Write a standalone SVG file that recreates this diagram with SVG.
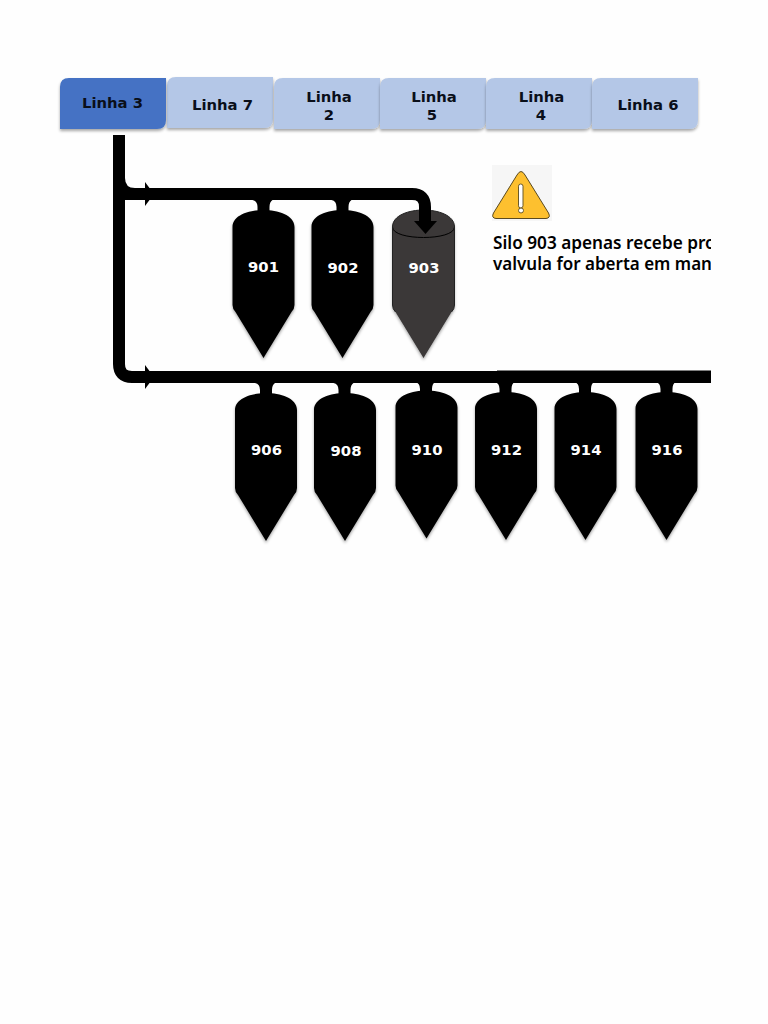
<svg xmlns="http://www.w3.org/2000/svg" width="768" height="1024" viewBox="0 0 768 1024">
<style>
.tab{fill:#b4c7e7}
.tab.on{fill:#4472c4}
.tt{font:bold 14.8px "DejaVu Sans",sans-serif;fill:#0a0f1a;text-anchor:middle}
.sl{font:bold 14.8px "DejaVu Sans",sans-serif;fill:#fff;text-anchor:middle}
.pipe{fill:none;stroke:#000;stroke-width:12}
.note{font:600 17.2px "Noto Sans",sans-serif;fill:#000}
.note2{font:600 17px "Noto Sans",sans-serif;fill:#000}
</style>
<defs>
<filter id="sh" x="-20%" y="-20%" width="140%" height="140%"><feDropShadow dx="0" dy="2" stdDeviation="1.500" flood-color="#000" flood-opacity=".35"/></filter>
<path id="tabshape" d="M9 0H106V42Q106 51 97 51H0V9Q0 0 9 0Z"/>
<path id="silo" d="M-31 17C-31 5 -14 0 0 0C14 0 31 5 31 17V95Q31 99 28 102L0 148L-28 102Q-31 99 -31 95Z"/>
<path id="stub" d="M-11 0Q-6 1 -6 7V16H6V7Q6 2 9 0Z"/>
<clipPath id="cut"><rect x="480" y="225" width="231" height="60"/></clipPath>
</defs>
<rect width="768" height="1024" fill="#fefefe"/>
<g id="tab-linha-7"><use href="#tabshape" x="167" y="77" class="tab" filter="url(#sh)"/><text class="tt" x="222.500" y="110">Linha 7</text></g>
<g id="tab-linha-2"><use href="#tabshape" x="274" y="78" class="tab" filter="url(#sh)"/><text class="tt" x="329" y="102">Linha</text><text class="tt" x="329" y="120">2</text></g>
<g id="tab-linha-5"><use href="#tabshape" x="380" y="78" class="tab" filter="url(#sh)"/><text class="tt" x="434" y="102">Linha</text><text class="tt" x="432" y="120">5</text></g>
<g id="tab-linha-4"><use href="#tabshape" x="486" y="78" class="tab" filter="url(#sh)"/><text class="tt" x="541.500" y="102">Linha</text><text class="tt" x="541" y="120">4</text></g>
<g id="tab-linha-6"><use href="#tabshape" x="592" y="78" class="tab" filter="url(#sh)"/><text class="tt" x="648" y="110">Linha 6</text></g>
<g id="tab-linha-3"><use href="#tabshape" x="60" y="78" class="tab on" filter="url(#sh)"/><text class="tt" x="112.500" y="108">Linha 3</text></g>
<g id="silo-901"><use href="#silo" x="263.500" y="210" filter="url(#sh)"/><text class="sl" x="263.500" y="272">901</text></g>
<g id="silo-902"><use href="#silo" x="342.500" y="210" filter="url(#sh)"/><text class="sl" x="343" y="273">902</text></g>
<g id="silo-903"><use href="#silo" x="423.500" y="210" fill="#3b3838" filter="url(#sh)"/><path d="M392.500 227C392.500 241 454.500 241 454.500 227" fill="none" stroke="#000" stroke-width="1"/><path d="M392.500 227C392.500 215 409.500 210 423.500 210C437.500 210 454.500 215 454.500 227V305Q454.500 309 451.500 312M392.500 227V305Q392.500 309 395.500 312" fill="none" stroke="#222" stroke-width="1"/><text class="sl" x="424" y="273">903</text></g>
<g id="silo-906"><use href="#silo" x="266" y="393" filter="url(#sh)"/><text class="sl" x="266.500" y="455">906</text></g>
<g id="silo-908"><use href="#silo" x="345" y="393" filter="url(#sh)"/><text class="sl" x="346" y="456">908</text></g>
<g id="silo-910"><use href="#silo" x="426.500" y="390.500" filter="url(#sh)"/><text class="sl" x="427" y="455">910</text></g>
<g id="silo-912"><use href="#silo" x="506" y="392" filter="url(#sh)"/><text class="sl" x="506.500" y="455">912</text></g>
<g id="silo-914"><use href="#silo" x="585.500" y="392" filter="url(#sh)"/><text class="sl" x="586" y="455">914</text></g>
<g id="silo-916"><use href="#silo" x="666.500" y="392" filter="url(#sh)"/><text class="sl" x="667" y="455">916</text></g>
<g id="connectors">
<path class="pipe" d="M119 135V194H412Q425 194 425 207V224"/>
<path class="pipe" d="M119 193V364Q119 377 132 377H711"/>
<path class="pipe" d="M497 376.500H711"/>
<path d="M125 178Q125 188 135 188H125Z"/>
<path d="M145 182L154 194L145 206Z"/>
<path d="M145 365L154 377L145 389Z"/>
<path d="M414 221H437L425.500 234Z"/>
<use href="#stub" x="263.500" y="200"/><use href="#stub" x="342.500" y="200"/>
<use href="#stub" x="266" y="383"/><use href="#stub" x="344.500" y="383"/><use href="#stub" x="426" y="382"/><use href="#stub" x="505.500" y="382"/><use href="#stub" x="585" y="382"/><use href="#stub" x="666.500" y="382"/>
</g>
<g id="warning">
<rect x="492" y="165" width="60" height="56" fill="#f6f6f6"/>
<path d="M521 171.500Q523 171.500 525 175L548.500 213Q551 218 546 218.500H496Q491 218 493.500 213L517 175Q519 171.500 521 171.500Z" fill="#fdc02f" stroke="#5a4a20" stroke-width="1"/>
<rect x="518.500" y="184" width="4.500" height="24" rx="2.200" fill="#fff" stroke="#6b5a2a" stroke-width="1"/>
<circle cx="521" cy="210.500" r="2.500" fill="#fff" stroke="#6b5a2a" stroke-width="1"/>
<g clip-path="url(#cut)"><text class="note" x="493" y="249">Silo 903 apenas recebe pro</text><text class="note2" x="493" y="270">valvula for aberta em man</text></g>
</g>
</svg>
